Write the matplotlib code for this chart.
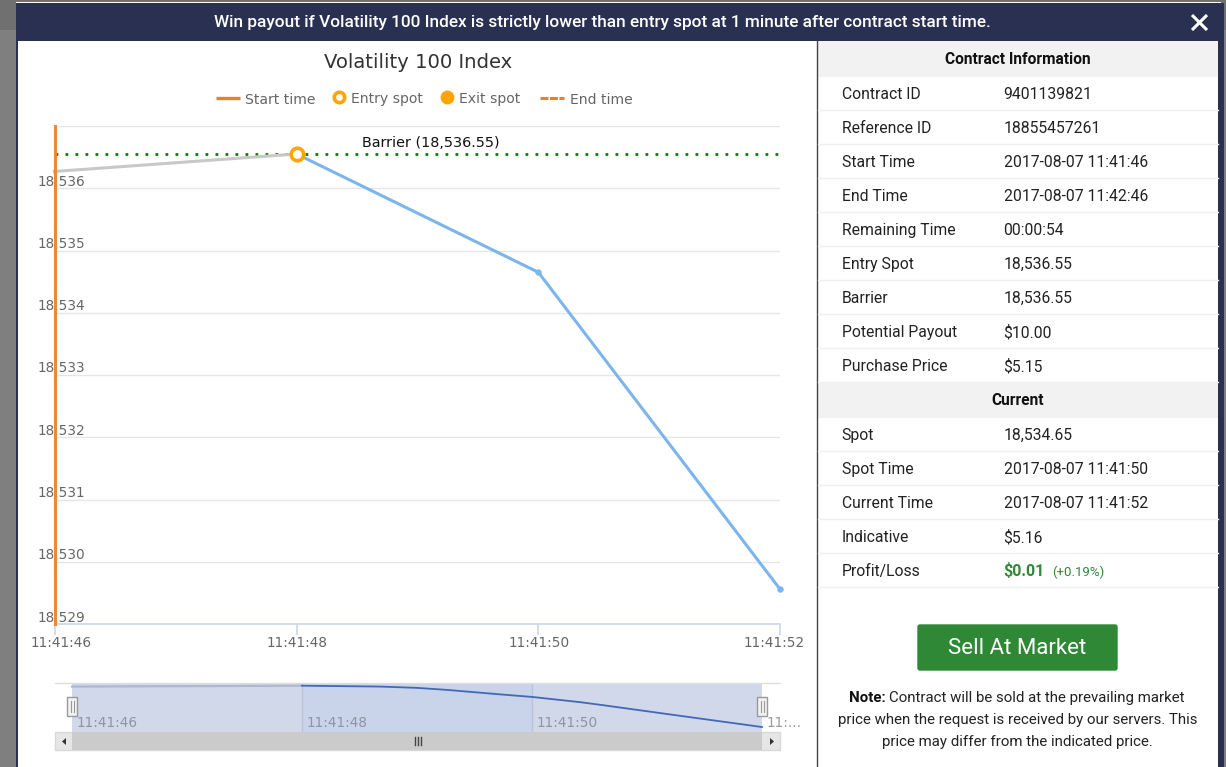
import matplotlib
matplotlib.use("Agg")
import matplotlib.pyplot as plt
from matplotlib.patches import Rectangle, FancyBboxPatch
from matplotlib.transforms import Affine2D

# ---- data ----
title_bar = "Win payout if Volatility 100 Index is strictly lower than entry spot at 1 minute after contract start time."
chart_title = "Volatility 100 Index"
legend_labels = ["Start time", "Entry spot", "Exit spot", "End time"]
times = [46, 48, 50, 52]
time_labels = ["11:41:46", "11:41:48", "11:41:50", "11:41:52"]
prices = [18536.27, 18536.55, 18534.65, 18529.56]
barrier = 18536.55
barrier_label = "Barrier (18,536.55)"
y_ticks = [18529, 18530, 18531, 18532, 18533, 18534, 18535, 18536, 18537]
nav_times = [48, 48.68, 49, 49.26, 49.73, 50, 50.42, 50.6, 51.29, 52]
nav_prices = [18536.55, 18536.40, 18536.18, 18535.84, 18535.07, 18534.65, 18533.76, 18533.3, 18531.45, 18529.56]
nav_first_times = [46, 48]
nav_first_prices = [18536.4, 18536.55]
info_rows = [("Contract ID", "9401139821"), ("Reference ID", "18855457261"),
             ("Start Time", "2017-08-07 11:41:46"), ("End Time", "2017-08-07 11:42:46"),
             ("Remaining Time", "00:00:54"), ("Entry Spot", "18,536.55"),
             ("Barrier", "18,536.55"), ("Potential Payout", "$10.00"),
             ("Purchase Price", "$5.15")]
current_rows = [("Spot", "18,534.65"), ("Spot Time", "2017-08-07 11:41:50"),
                ("Current Time", "2017-08-07 11:41:52"), ("Indicative", "$5.16")]

W, H = 1226, 767
CHART = "DejaVu Sans"
UI = "Roboto"
plt.rcParams["font.family"] = UI
fig = plt.figure(figsize=(W / 100, H / 100), dpi=100, facecolor="#7f7f7f")

def px_axes(x0, y0, x1, y1, **kw):
    return fig.add_axes([x0 / W, 1 - y1 / H, (x1 - x0) / W, (y1 - y0) / H], **kw)

ui = fig.add_axes([0, 0, 1, 1])
ui.set_xlim(0, W); ui.set_ylim(H, 0); ui.axis("off")
ui.add_patch(Rectangle((0, 0), W, 30, fc="#707070", lw=0))
ui.add_patch(Rectangle((16, 2), 1205, H, fc="#ffffff", lw=0))
ui.add_patch(Rectangle((1218, 3), 6, H, fc="#2a3052", lw=0))
ui.add_patch(Rectangle((16, 3), 2, H, fc="#2a3052", lw=0))
ui.add_patch(Rectangle((16, 3), 1208, 38, fc="#2a3052", lw=0))
ui.text(602, 23, title_bar, color="white", fontsize=12.4, fontweight="medium", ha="center", va="center")
ui.plot([1192, 1207], [15, 30], color="white", lw=2.2, solid_capstyle="butt")
ui.plot([1192, 1207], [30, 15], color="white", lw=2.2, solid_capstyle="butt")

# right panel
ui.plot([817.2, 817.2], [41, H], color="#444444", lw=1)
def band(y0, y1, text):
    ui.add_patch(Rectangle((818, y0), 400, y1 - y0, fc="#f2f2f2", lw=0))
    ui.text(1017.5, (y0 + y1) / 2 + 0.6, text, fontsize=11.2, fontweight="bold", color="#111111", ha="center", va="center")
def row(yc, label, value):
    ui.text(841.5, yc + 1.5, label, fontsize=11.3, color="#222222", ha="left", va="center")
    if value:
        ui.text(1003.5, yc + 1.5, value, fontsize=11.3, color="#222222", ha="left", va="center")
    ui.plot([818, 1218], [yc + 17, yc + 17], color="#f0f0f0", lw=1)
band(41, 77, "Contract Information")
for i, (a, b) in enumerate(info_rows):
    row(93 + 34 * i, a, b)
band(382, 418, "Current")
for i, (a, b) in enumerate(current_rows):
    row(434 + 34 * i, a, b)
row(570, "Profit/Loss", "")
ui.text(1003.5, 571, "$0.01", fontsize=11.5, fontweight="bold", color="#2e8836", ha="left", va="center")
ui.text(1052, 572, "(+0.19%)", fontsize=9.5, color="#2e8836", ha="left", va="center")
ui.add_patch(FancyBboxPatch((918, 625), 199, 45, boxstyle="round,pad=0,rounding_size=2", fc="#2e8836", ec="#2e8836", lw=1))
ui.text(1017.5, 649, "Sell At Market", color="white", fontsize=16, ha="center", va="center")
ui.text(849, 698, "Note:", fontsize=10.8, fontweight="bold", color="#111111", ha="left", va="center")
ui.text(889, 698, "Contract will be sold at the prevailing market", fontsize=10.8, color="#222222", ha="left", va="center")
ui.text(1017.5, 720, "price when the request is received by our servers. This", fontsize=10.8, color="#222222", ha="center", va="center")
ui.text(1017.5, 742, "price may differ from the indicated price.", fontsize=10.8, color="#222222", ha="center", va="center")

# chart title + legend
ui.text(418.5, 63, chart_title, family=CHART, fontsize=14.1, color="#333333", ha="center", va="center")
leg_color = "#666666"
leg_fs = 10.1
ui.plot([216, 240], [98, 98], color="#e98024", lw=2.4, solid_capstyle="butt")
ui.text(245, 99.5, legend_labels[0], family=CHART, fontsize=leg_fs, color=leg_color, ha="left", va="center")
ui.plot([339], [97], "o", ms=7.5, mfc="white", mec="#ffa500", mew=2.6)
ui.text(351, 99.5, legend_labels[1], family=CHART, fontsize=leg_fs, color=leg_color, ha="left", va="center")
ui.plot([447], [97], "o", ms=10, color="#ffa500", mew=0)
ui.text(459, 99.5, legend_labels[2], family=CHART, fontsize=leg_fs, color=leg_color, ha="left", va="center")
ui.plot([540, 564], [98, 98], color="#e98024", lw=2.2, ls=(0, (2.6, 0.5)))
ui.text(570, 99.5, legend_labels[3], family=CHART, fontsize=leg_fs, color=leg_color, ha="left", va="center")

# main chart
ax = px_axes(55, 126, 780, 624, facecolor="none")
ax.set_xlim(times[0], times[-1])
ax.set_ylim(y_ticks[0], y_ticks[-1])
for s in ("top", "left", "right"):
    ax.spines[s].set_visible(False)
ax.spines["bottom"].set_color("#ccd6eb")
ax.spines["bottom"].set_linewidth(1.2)
ax.set_yticks(y_ticks)
ax.set_yticklabels([])
ax.tick_params(axis="y", length=0)
ax.grid(axis="y", color="#e6e6e6", lw=1)
ax.set_axisbelow(True)
ax.set_xticks(times)
ax.set_xticklabels(time_labels, family=CHART, fontsize=9.8, color="#666666")
ax.tick_params(axis="x", length=8, width=1.2, color="#ccd6eb", pad=0.8)
for lbl, dx in zip(ax.get_xticklabels(), [6, 0.5, 0.5, -6]):
    lbl.set_transform(lbl.get_transform() + Affine2D().translate(dx, 0))
for v in y_ticks[:-1]:
    ax.annotate(f"{v:,}", (times[0], v), xytext=(-17, 6.5), textcoords="offset pixels",
                family=CHART, fontsize=9.8, color="#666666", ha="left", va="center", annotation_clip=False, zorder=2)
ax.axhline(barrier, color="#008000", lw=2, ls=(0, (1, 2.6)), zorder=2)
ax.plot(times[:2], prices[:2], color="#c8c8c8", lw=2.2, marker="o", ms=3, clip_on=False, zorder=3)
ax.plot(times[1:], prices[1:], color="#7cb5ec", lw=2.2, marker="o", ms=3.6, clip_on=False, zorder=3)
ax.axvline(times[0], color="#e98a3a", lw=2.2, clip_on=False, zorder=4)
ax.plot([times[1]], [prices[1]], "o", ms=9, mfc="white", mec="#ffa500", mew=2.6, zorder=5)
ax.annotate(barrier_label, (times[1], barrier), xytext=(65, 4), textcoords="offset pixels",
            family=CHART, fontsize=10.35, color="#111111", ha="left", va="bottom", zorder=6)

# navigator
px_per_s = 115.0
nav = px_axes(55, 683, 780, 732, facecolor="white")
nav.set_xlim(times[0] - 17 / px_per_s, times[-1] + 18 / px_per_s)
py = 5.94
nav.set_ylim(prices[-1] - 5 / py, barrier + 2.7 / py)
for s in nav.spines.values():
    s.set_visible(False)
nav.set_yticks([]); nav.set_xticks([])
nav.axvspan(times[0], times[-1], color="#d0d8ea", lw=0, zorder=1)
nav.axvspan(times[1], times[2], color="#c9d4ea", lw=0, zorder=1)
nav.plot(nav_first_times, nav_first_prices, color="#aeb8cf", lw=1.6, zorder=3)
nav.plot(nav_times, nav_prices, color="#4169b8", lw=1.3, zorder=3)
for t in times[1:3]:
    nav.axvline(t, color="#b9c3da", lw=1, zorder=2)
y_lab = nav.get_ylim()[0]
for t, lab in zip(times[:3], time_labels[:3]):
    nav.annotate(lab, (t, y_lab), xytext=(4.5, 2), textcoords="offset pixels", family=CHART, fontsize=9.8,
                 color="#8f93a5", ha="left", va="bottom", zorder=4)
nav.annotate("11:...", (times[3], y_lab), xytext=(5, 2), textcoords="offset pixels", family=CHART, fontsize=9.8,
             color="#999999", ha="left", va="bottom", annotation_clip=False, zorder=4)

# navigator frame + scrollbar (UI layer above)
top = fig.add_axes([0, 0, 1, 1], facecolor="none")
top.set_xlim(0, W); top.set_ylim(H, 0); top.axis("off")
top.plot([55, 780], [682.5, 682.5], color="#dddddd", lw=1)
top.add_patch(Rectangle((55, 732), 725, 18, fc="#e6e6e6", ec="#d8d8d8", lw=1))
top.add_patch(Rectangle((72, 732), 690, 18, fc="#cbcbcb", lw=0))
top.plot([414.5, 414.5], [737, 745], color="#444444", lw=1)
top.plot([417.5, 417.5], [737, 745], color="#444444", lw=1)
top.plot([420.5, 420.5], [737, 745], color="#444444", lw=1)
top.fill([66, 62, 66], [738, 741.5, 745], color="#333333", lw=0)
top.fill([770, 774, 770], [738, 741.5, 745], color="#333333", lw=0)
for x in (72, 762):
    top.add_patch(Rectangle((x - 5, 697), 10, 19, fc="#f2f2f2", ec="#999999", lw=1, zorder=5))
    top.plot([x - 1.5, x - 1.5], [701, 712], color="#999999", lw=0.8, zorder=6)
    top.plot([x + 1.5, x + 1.5], [701, 712], color="#999999", lw=0.8, zorder=6)

fig.savefig("out.png", dpi=100, facecolor=fig.get_facecolor())
